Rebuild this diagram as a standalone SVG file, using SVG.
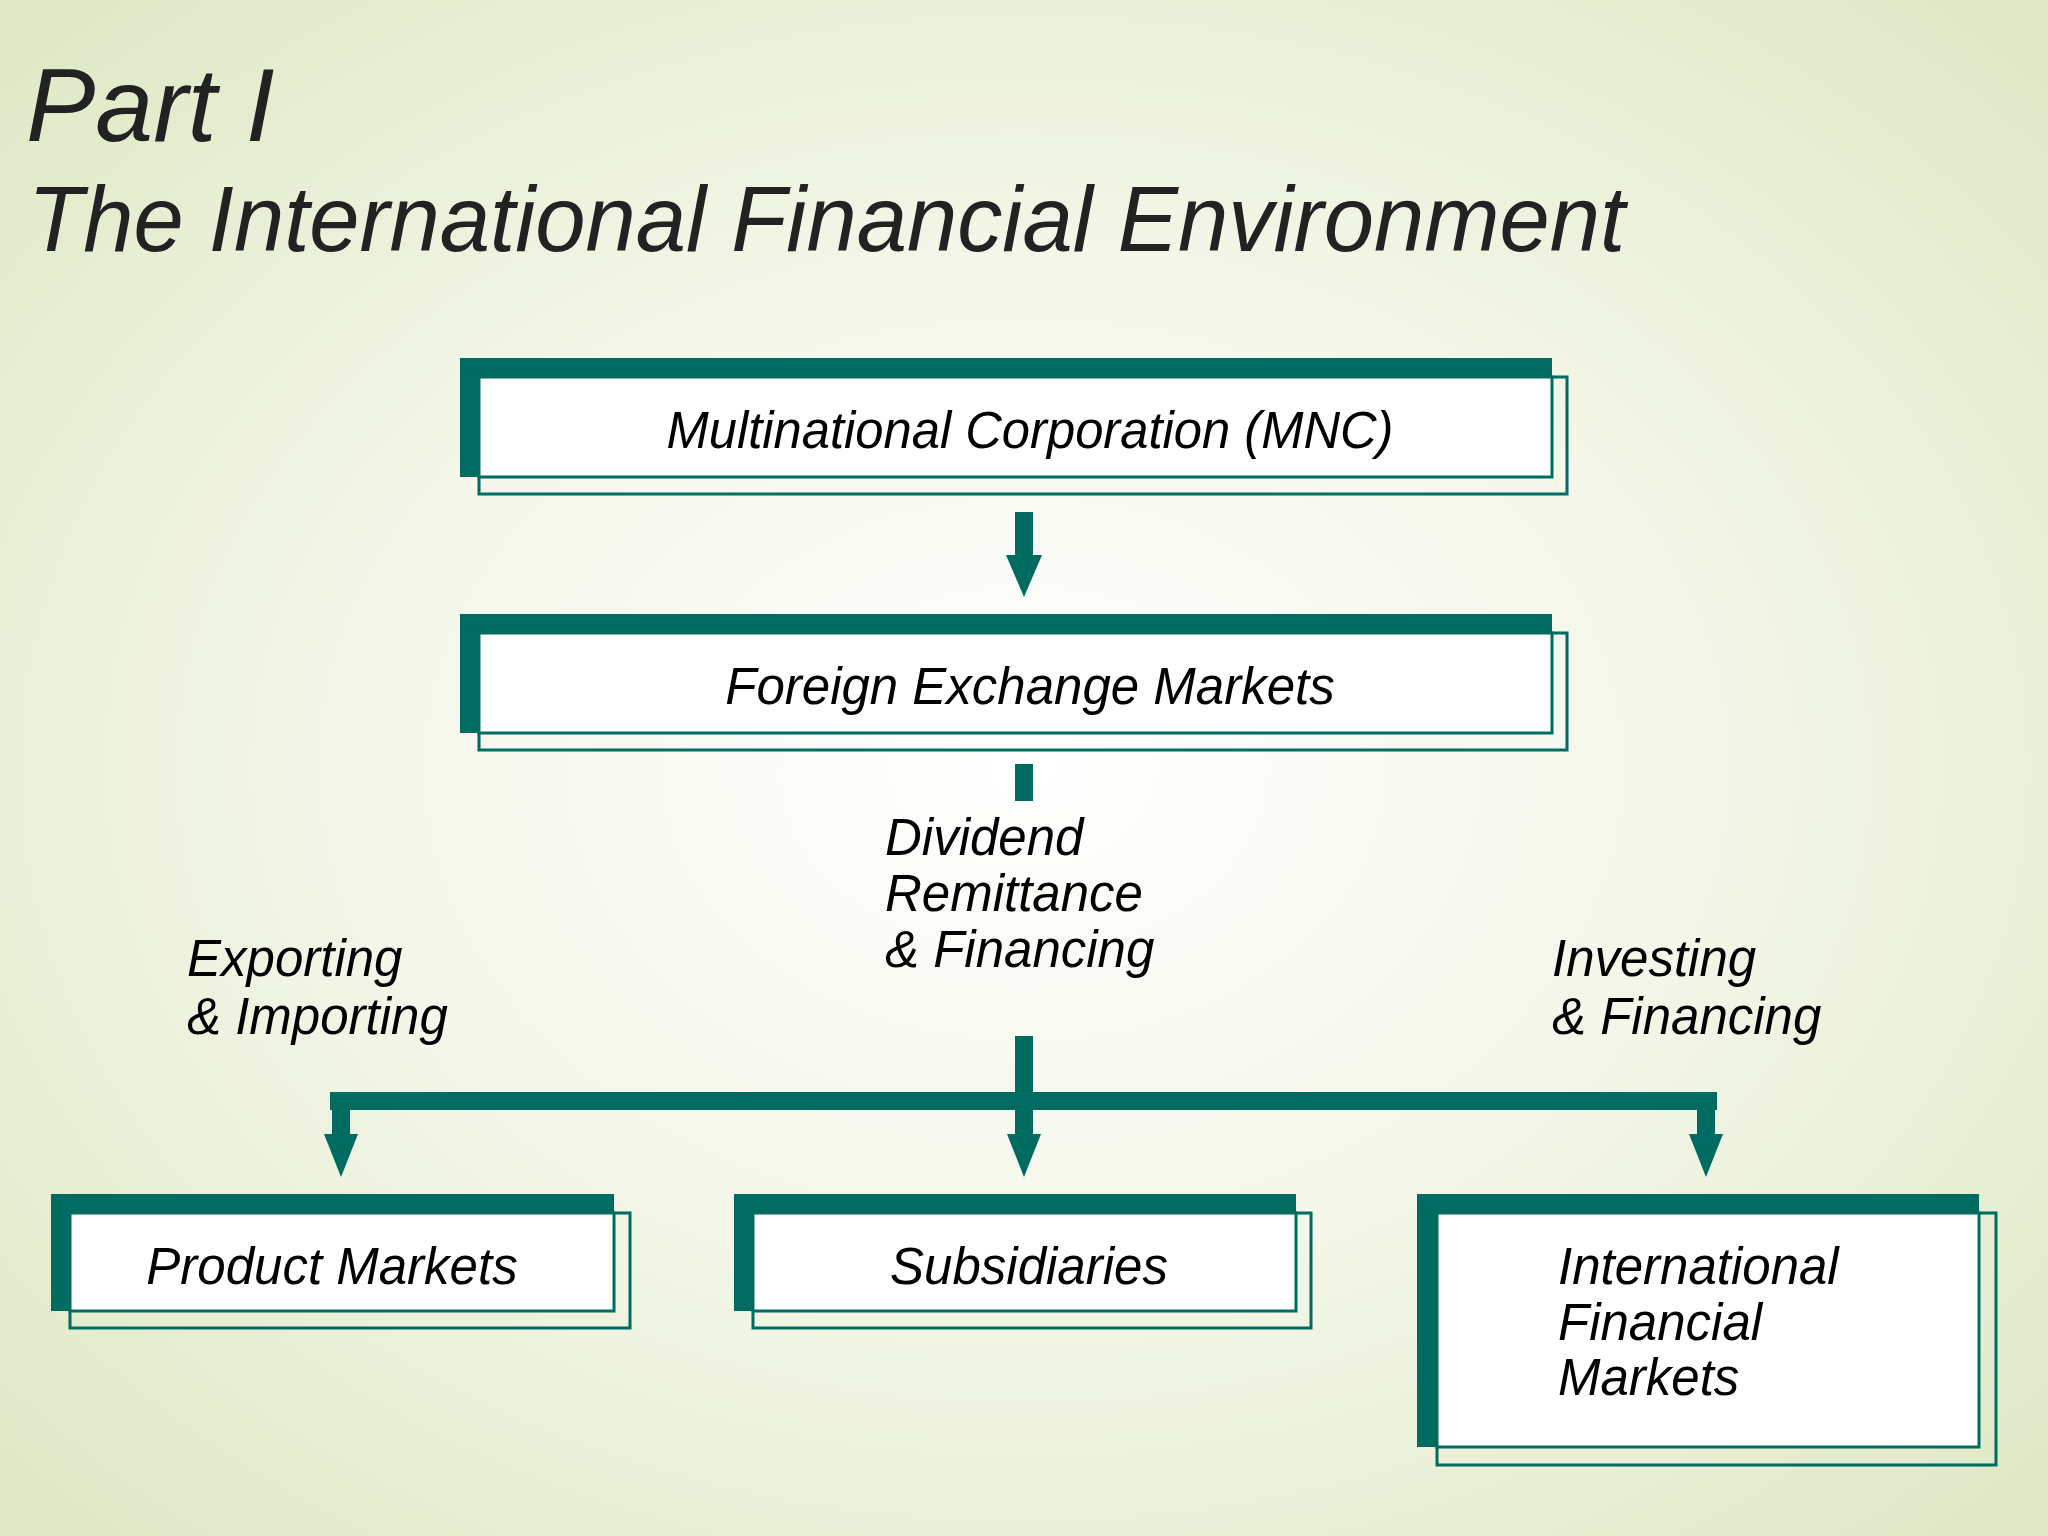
<svg xmlns="http://www.w3.org/2000/svg" width="2048" height="1536" viewBox="0 0 2048 1536">
<defs>
<radialGradient id="bg" cx="0.5" cy="0.5" r="0.75">
<stop offset="0" stop-color="#ffffff"/>
<stop offset="0.45" stop-color="#f3f6e8"/>
<stop offset="1" stop-color="#dbe6bf"/>
</radialGradient>
<style>
.t{font-family:"Liberation Sans",Arial,sans-serif;font-style:italic;fill:#000;font-size:51px}
.h{font-family:"Liberation Sans",Arial,sans-serif;font-style:italic;fill:#222}
.thick{fill:#006b60}
.inner{fill:#fff;stroke:#006b60;stroke-width:3}
.shadow{fill:none;stroke:#006b60;stroke-width:3}
.c{fill:#006b60}
</style>
</defs>
<rect width="2048" height="1536" fill="url(#bg)"/>
<text class="h" x="26" y="141" font-size="104">Part I</text>
<text class="h" x="28" y="251" font-size="92" textLength="1597" lengthAdjust="spacingAndGlyphs">The International Financial Environment</text>

<g id="mnc">
<rect class="shadow" x="479" y="377" width="1088" height="117"/>
<rect class="thick" x="460" y="358" width="1092" height="119"/>
<rect class="inner" x="479" y="377" width="1073" height="100"/>
<text class="t" x="1030" y="448" text-anchor="middle" textLength="727" lengthAdjust="spacingAndGlyphs">Multinational Corporation (MNC)</text>
</g>
<g id="fx">
<rect class="shadow" x="479" y="633" width="1088" height="117"/>
<rect class="thick" x="460" y="614" width="1092" height="119"/>
<rect class="inner" x="479" y="633" width="1073" height="100"/>
<text class="t" x="1030" y="704" text-anchor="middle">Foreign Exchange Markets</text>
</g>
<g id="product">
<rect class="shadow" x="70" y="1213" width="560" height="115"/>
<rect class="thick" x="51" y="1194" width="563" height="117"/>
<rect class="inner" x="70" y="1213" width="544" height="98"/>
<text class="t" x="332" y="1284" text-anchor="middle">Product Markets</text>
</g>
<g id="subs">
<rect class="shadow" x="753" y="1213" width="558" height="115"/>
<rect class="thick" x="734" y="1194" width="562" height="117"/>
<rect class="inner" x="753" y="1213" width="543" height="98"/>
<text class="t" x="1029" y="1284" text-anchor="middle">Subsidiaries</text>
</g>
<g id="ifm">
<rect class="shadow" x="1437" y="1213" width="559" height="252"/>
<rect class="thick" x="1417" y="1194" width="562" height="253"/>
<rect class="inner" x="1437" y="1213" width="542" height="234"/>
<text class="t" x="1558" y="1284">International</text>
<text class="t" x="1558" y="1340">Financial</text>
<text class="t" x="1558" y="1395">Markets</text>
</g>

<g id="connectors">
<rect class="c" x="1015" y="512" width="18" height="45"/>
<polygon class="c" points="1006,555 1042,555 1024,597"/>
<rect class="c" x="1015" y="764" width="18" height="37"/>
<rect class="c" x="1015" y="1036" width="18" height="100"/>
<rect class="c" x="330" y="1092" width="1387" height="18"/>
<rect class="c" x="332" y="1092" width="18" height="44"/>
<rect class="c" x="1697" y="1092" width="18" height="44"/>
<polygon class="c" points="324,1134 358,1134 341,1177"/>
<polygon class="c" points="1007,1134 1041,1134 1024,1177"/>
<polygon class="c" points="1689,1134 1723,1134 1706,1177"/>
</g>
<text class="t" x="885" y="855">Dividend</text>
<text class="t" x="885" y="911">Remittance</text>
<text class="t" x="885" y="967">&amp; Financing</text>
<text class="t" x="187" y="976">Exporting</text>
<text class="t" x="187" y="1034">&amp; Importing</text>
<text class="t" x="1552" y="976">Investing</text>
<text class="t" x="1552" y="1034">&amp; Financing</text>
</svg>
